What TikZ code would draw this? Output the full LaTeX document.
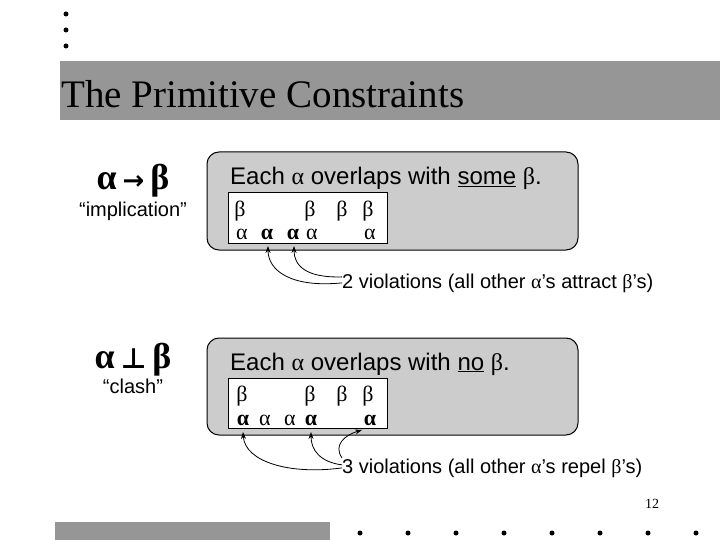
\documentclass[tikz,border=0pt]{standalone}
\usepackage{fontspec}
\setmainfont{Liberation Sans}
\newfontfamily\serifx{Liberation Serif}
\newfontfamily\djv{DejaVu Sans}
\newcommand{\ga}{{\serifx α}}
\newcommand{\gb}{{\serifx β}}
\usetikzlibrary{arrows.meta}
\definecolor{barg}{HTML}{969696}
\definecolor{boxg}{HTML}{CCCCCC}
\begin{document}
\begin{tikzpicture}[x=1pt,y=-1pt,
  dot/.style={circle,fill=black,inner sep=0pt,minimum size=5pt},
  outerbox/.style={draw,line width=1pt,fill=boxg,rounded corners=12pt},
  innerbox/.style={draw,line width=1pt,fill=white},
  txt/.style={font=\fontsize{24}{28}\selectfont,anchor=base west,inner sep=0pt},
  gl/.style={font=\serifx\fontsize{22}{24}\selectfont,anchor=base,inner sep=0pt},
  bgl/.style={font=\serifx\fontsize{22}{24}\selectfont\bfseries,anchor=base,inner sep=0pt},
  vl/.style={anchor=base west,inner sep=0pt,font=\fontsize{20}{24}\selectfont},
  arr/.style={-{Stealth[length=7pt,width=5pt]},line width=0.8pt}]
\useasboundingbox (0,0) rectangle (720,540);
% header
\node[dot] (d1) at (66,14) {};
\node[dot] (d2) at (66,30) {};
\node[dot] (d3) at (66,46) {};
\fill[barg] (60,61) rectangle (720,120);
\node[anchor=base west,inner sep=0pt,font=\serifx\fontsize{39}{44}\selectfont] (title) at (61,108) {The Primitive Constraints};
% footer
\fill[barg] (55,522) rectangle (330,540);
\foreach \i in {0,...,7} {\node[dot] (f\i) at (360+48*\i,533) {};}
\node[anchor=base,inner sep=0pt,font=\serifx\fontsize{14}{16}\selectfont] (pg) at (652,508) {12};
% left labels
\node[anchor=base,inner sep=0pt,font=\serifx\fontsize{36}{40}\selectfont\bfseries] (imp) at (133,190) {α\,{\djv\fontsize{26}{30}\selectfont →}\,β};
\node[anchor=base,inner sep=0pt,font=\fontsize{20}{24}\selectfont] (impl) at (133,216) {“implication”};
\node[anchor=base,inner sep=0pt,font=\serifx\fontsize{36}{40}\selectfont\bfseries] (cl) at (133,368) {α\,{\djv\fontsize{28}{30}\selectfont ⊥}\,β};
\node[anchor=base,inner sep=0pt,font=\fontsize{20}{24}\selectfont] (cll) at (133,393) {“clash”};
% box 1
\draw[outerbox] (207,152) rectangle (578,250);
\draw[innerbox] (228,193) rectangle (387,243);
\node[txt] (t1) at (230,185) {Each \ga{} overlaps with \underline{some} \gb.};
\foreach \x/\n in {240/a,310/b,342/c,368/d} {\node[gl] (b1\n) at (\x,216) {β};}
\node[gl] (a1a) at (242,240) {α};
\node[bgl] (a1b) at (267,240) {α};
\node[bgl] (a1c) at (293,240) {α};
\node[gl] (a1d) at (312,240) {α};
\node[gl] (a1e) at (370,240) {α};
\node[vl] (v1) at (342,288) {2 violations (all other \ga’s attract \gb’s)};
\draw[arr] (v1.west) .. controls (290,288) and (268,270) .. (268,246);
\draw[arr] (v1.west) ++(0,-6) .. controls (305,278) and (294,265) .. (294,246);
% box 2
\draw[outerbox] (207,338) rectangle (578,435);
\draw[innerbox] (228,378) rectangle (387,428);
\node[txt] (t2) at (230,370) {Each \ga{} overlaps with \underline{no} \gb.};
\foreach \x/\n in {242/a,310/b,342/c,368/d} {\node[gl] (b2\n) at (\x,401) {β};}
\node[bgl] (a2a) at (243,425) {α};
\node[gl] (a2b) at (265,425) {α};
\node[gl] (a2c) at (290,425) {α};
\node[bgl] (a2d) at (311,425) {α};
\node[bgl] (a2e) at (370,425) {α};
\node[vl] (v2) at (342,473) {3 violations (all other \ga’s repel \gb’s)};
\draw[arr] (v2.west) .. controls (290,475) and (245,462) .. (243,432);
\draw[arr] (v2.west) ++(0,-3) .. controls (320,462) and (311,450) .. (311,432);
\draw[arr] (v2.west) ++(0,-10) .. controls (333,445) and (345,435) .. (362,430);
\end{tikzpicture}
\end{document}
